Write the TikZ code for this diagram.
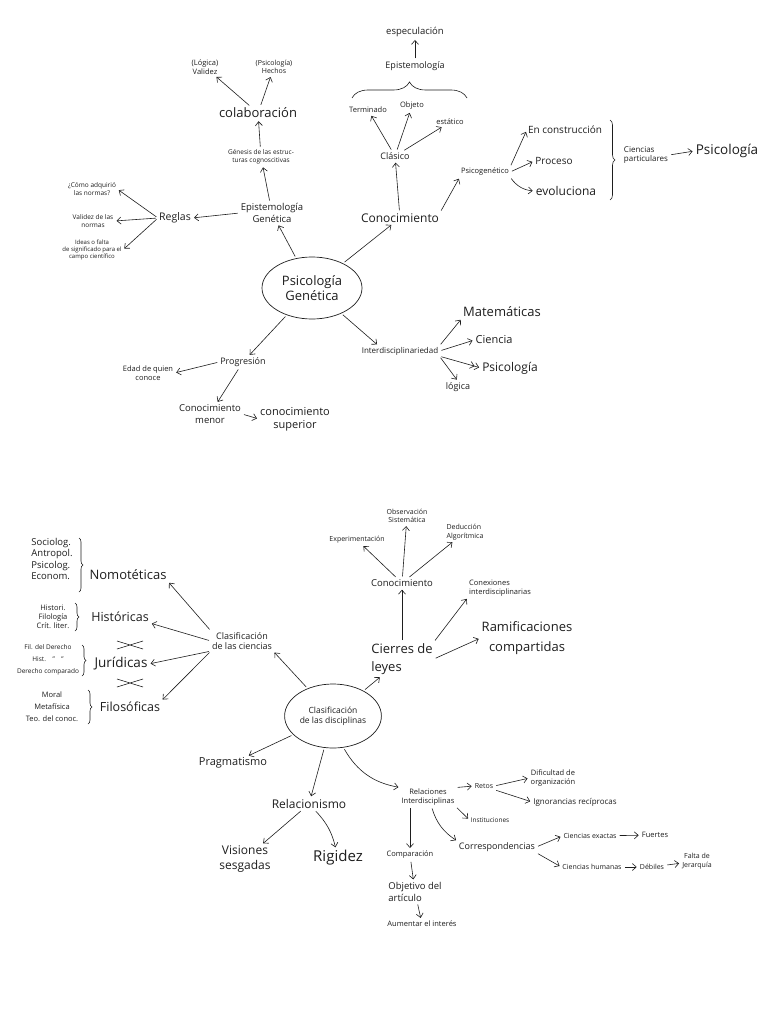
\documentclass[tikz,border=0pt]{standalone}
\usepackage{fontspec}
\setmainfont{Open Sans}
\usetikzlibrary{shapes.geometric, arrows.meta, positioning, decorations.pathreplacing}
\definecolor{inkGray}{HTML}{1E1E1E}
\newcommand{\lblfont}[1]{\pgfmathsetmacro{\lblskip}{1.2*#1}\fontsize{#1}{\lblskip}\selectfont}

\begin{document}
\begin{tikzpicture}[
    x=1pt, y=-1pt,
    lbl/.style={align=center, inner sep=1pt, text=inkGray, font=\lblfont{#1}},
    lbl/.default=8,
    blob/.style={ellipse, draw=inkGray, line width=0.7pt, inner sep=0pt, align=center},
    arr/.style={draw=inkGray, line width=0.6pt, -{Straight Barb[length=4pt, width=7pt]}, shorten >=2pt, shorten <=2pt},
    arrr/.style={arr, -{Straight Barb[length=4pt, width=7pt] Straight Barb[length=4pt, width=7pt]}},
    brc/.style={draw=inkGray, line width=0.6pt, decorate, decoration={brace, amplitude=#1}},
    brc/.default=4pt,
    mark x/.style={draw=inkGray, line width=0.6pt},
]
    \fill[white] (0,0) rectangle (768,1024);
    \useasboundingbox (0,0) rectangle (768,1024);

    \node[blob, minimum width=100pt, minimum height=62pt, lbl=13] (pg) at (312,288) {Psicología\\Genética};
    \node[lbl=9.5] (epg) at (272,213) {Epistemología\\Genética};
    \node[lbl=6.5] (gen) at (261,157) {Génesis de las estruc-\\turas cognoscitivas};
    \node[lbl=13] (col) at (258,113) {colaboración};
    \node[lbl=7.5] (val) at (205,67) {(Lógica)\\Validez};
    \node[lbl=7] (hec) at (274,67) {(Psicología)\\Hechos};
    \node[lbl=10.5] (reg) at (175,218) {Reglas};
    \node[lbl=6.5] (adq) at (92,189) {¿Cómo adquirió\\las normas?};
    \node[lbl=6.5] (vno) at (93,221) {Validez de las\\normas};
    \node[lbl=6] (ide) at (92,250) {Ideas o falta\\de significado para el\\campo científico};
    \node[lbl=12] (con) at (400,218) {Conocimiento};
    \node[lbl=9] (cla) at (395,156) {Clásico};
    \node[lbl=7.5] (ter) at (368,110) {Terminado};
    \node[lbl=7.5] (obj) at (412,106) {Objeto};
    \node[lbl=7.5] (est) at (450,122) {estático};
    \node[lbl=9] (eps) at (415,66) {Epistemología};
    \node[lbl=9.5] (esp) at (415,32) {especulación};
    \node[lbl=7.5] (psg) at (485,172) {Psicogenético};
    \node[lbl=10] (enc) at (565,130) {En construcción};
    \node[lbl=10] (pro) at (554,161) {Proceso};
    \node[lbl=12] (evo) at (566,191) {evoluciona};
    \node[lbl=8, align=left] (cpa) at (646,155) {Ciencias\\particulares};
    \node[lbl=13.5] (psi) at (727,151) {Psicología};
    \node[lbl=8] (int) at (400,351) {Interdisciplinariedad};
    \node[lbl=13] (mat) at (502,312) {Matemáticas};
    \node[lbl=11] (cie) at (494,340) {Ciencia};
    \node[lbl=12] (psl) at (510,368) {Psicología};
    \node[lbl=9] (log) at (458,387) {lógica};
    \node[lbl=9] (prg) at (243,362) {Progresión};
    \node[lbl=7.5] (eda) at (148,373) {Edad de quien\\conoce};
    \node[lbl=9.5] (cme) at (210,414) {Conocimiento\\menor};
    \node[lbl=11] (csu) at (295,419) {conocimiento\\superior};

    \draw[arr] (pg) -- (epg);
    \draw[arr] (epg) -- (gen);
    \draw[arr] (gen) -- (col);
    \draw[arr] (col) -- (val);
    \draw[arr] (col) -- (hec);
    \draw[arr] (epg.west) -- (reg.east);
    \draw[arr] (reg.west) -- (adq.east);
    \draw[arr] (reg.west) -- (vno.east);
    \draw[arr] (reg.west) -- (ide.east);
    \draw[arr] (pg) -- (con);
    \draw[arr] (con) -- (cla);
    \draw[arr] (cla) -- (ter);
    \draw[arr] (cla) -- (obj);
    \draw[arr] (cla) -- (est);
    \draw[brc=16pt] (352,98) -- (467,98);
    \draw[arr] (eps) -- (esp);
    \draw[arr] (con.north east) -- (psg.south west);
    \draw[arr] (psg.north east) -- (enc.west);
    \draw[arr] (psg.east) -- (pro.west);
    \draw[arr] (psg.south east) to[bend right=25] (evo.west);
    \draw[brc=5pt] (610,120) -- (610,200);
    \draw[arr] (cpa.east) -- (psi.west);
    \draw[arr] (pg) -- ([xshift=18pt]int.north west);
    \draw[arr] (int.north east) -- (mat.south west);
    \draw[arr] (int.east) -- (cie.west);
    \draw[arrr] (int.south east) -- (psl.west);
    \draw[arr] (int.south east) -- (log.north);
    \draw[arr] (pg) -- (prg);
    \draw[arr] (prg.west) -- (eda.east);
    \draw[arr] (prg) -- (cme);
    \draw[arr] (cme.east) -- (csu.west);

    \node[blob, minimum width=84pt, minimum height=64pt, lbl=8.5] (cd) at (333,716) {Clasificación\\de las disciplinas};
    \node[lbl=9] (clc) at (242,641) {Clasificación\\de las ciencias};
    \node[lbl=13] (nom) at (128,575) {Nomotéticas};
    \node[lbl=12.5] (his) at (120,617) {Históricas};
    \node[lbl=13.5] (jur) at (121,664) {Jurídicas};
    \node[lbl=12.5] (fil) at (130,707) {Filosóficas};
    \node[lbl=9.5, align=left] (gno) at (52,559) {Sociolog.\\Antropol.\\Psicolog.\\Econom.};
    \node[lbl=7.5] (ghi) at (53,617) {Histori.\\Filología\\Crít. liter.};
    \node[lbl=6.5] (gju) at (48,660) {Fil. del Derecho\\[4pt]Hist.\quad ''\quad ''\\[4pt]Derecho comparado};
    \node[lbl=7.5] (gfi) at (52,707) {Moral\\[3pt]Metafísica\\[3pt]Teo. del conoc.};
    \draw[brc] (79,538) -- (79,592);
    \draw[brc] (75,603) -- (75,631);
    \draw[brc] (82,645) -- (82,676);
    \draw[brc] (88,690) -- (88,724);
    \draw[mark x] (117,641) -- (143,649) (117,649) -- (143,641);
    \draw[mark x] (117,679) -- (143,687) (117,687) -- (143,679);
    \node[lbl=13, align=left] (cle) at (402,659) {Cierres de\\[3pt]leyes};
    \node[lbl=9.5] (cn2) at (402,583) {Conocimiento};
    \node[lbl=7] (exp) at (357,540) {Experimentación};
    \node[lbl=7] (obs) at (407,516) {Observación\\Sistemática};
    \node[lbl=7, align=left] (ded) at (465,532) {Deducción\\Algorítmica};
    \node[lbl=7.5, align=left] (cnx) at (500,588) {Conexiones\\interdisciplinarias};
    \node[lbl=13] (ram) at (527,638) {Ramificaciones\\[4pt]compartidas};
    \node[lbl=11] (pra) at (233,763) {Pragmatismo};
    \node[lbl=12] (rel) at (309,804) {Relacionismo};
    \node[lbl=12] (vis) at (245,859) {Visiones\\sesgadas};
    \node[lbl=15] (rig) at (338,858) {Rigidez};
    \node[lbl=7.5] (rin) at (428,797) {Relaciones\\Interdisciplinas};
    \node[lbl=7] (ret) at (484,786) {Retos};
    \node[lbl=7.5] (dif) at (553,778) {Dificultad de\\organización};
    \node[lbl=8] (ign) at (575,802) {Ignorancias recíprocas};
    \node[lbl=6.5] (ins) at (490,820) {Instituciones};
    \node[lbl=9] (cor) at (497,847) {Correspondencias};
    \node[lbl=7] (cex) at (590,836) {Ciencias exactas};
    \node[lbl=7.5] (fue) at (655,835) {Fuertes};
    \node[lbl=7] (chu) at (592,867) {Ciencias humanas};
    \node[lbl=7] (deb) at (652,867) {Débiles};
    \node[lbl=7] (fal) at (697,861) {Falta de\\Jerarquía};
    \node[lbl=7.5] (cmp) at (410,855) {Comparación};
    \node[lbl=9.5, align=left] (obv) at (415,892) {Objetivo del\\artículo};
    \node[lbl=7.5] (aum) at (422,924) {Aumentar el interés};

    \draw[arr] (cd) -- (clc.south east);
    \draw[arr] (clc.north west) -- (nom.south east);
    \draw[arr] (clc.west) -- (his.south east);
    \draw[arr] (clc.south west) -- (jur.east);
    \draw[arr] (clc.south west) -- (fil.north east);
    \draw[arr] (cd) -- (cle);
    \draw[arr] (cle) -- (cn2);
    \draw[arr] (cn2) -- (exp);
    \draw[arr] (cn2) -- (obs);
    \draw[arr] (cn2) -- (ded);
    \draw[arr] (cle.north east) -- (cnx.south west);
    \draw[arr] (cle.east) -- (ram.west);
    \draw[arr] (cd) -- (pra);
    \draw[arr] (cd) -- (rel);
    \draw[arr] (cd) to[bend right=25] (rin.north west);
    \draw[arr] (rel) -- (vis);
    \draw[arr] (rel) to[bend left=15] (rig);
    \draw[arr] (rin.north east) -- (ret.west);
    \draw[arr] (ret.east) -- (dif.west);
    \draw[arr] (ret.south east) -- (ign.west);
    \draw[arr] (rin.south east) -- (ins.west);
    \draw[arr] (rin.-70) to[bend right=20] (cor.north west);
    \draw[arr] ([xshift=-18pt]rin.south) -- (cmp);
    \draw[arr] (cmp) -- (obv);
    \draw[arr] (obv) -- (aum);
    \draw[arr] (cor.east) -- (cex.west);
    \draw[arr] (cor.south east) -- (chu.west);
    \draw[arr] (cex) -- (fue);
    \draw[arr] (chu) -- (deb);
    \draw[arr] (deb) -- (fal);
\end{tikzpicture}
\end{document}
